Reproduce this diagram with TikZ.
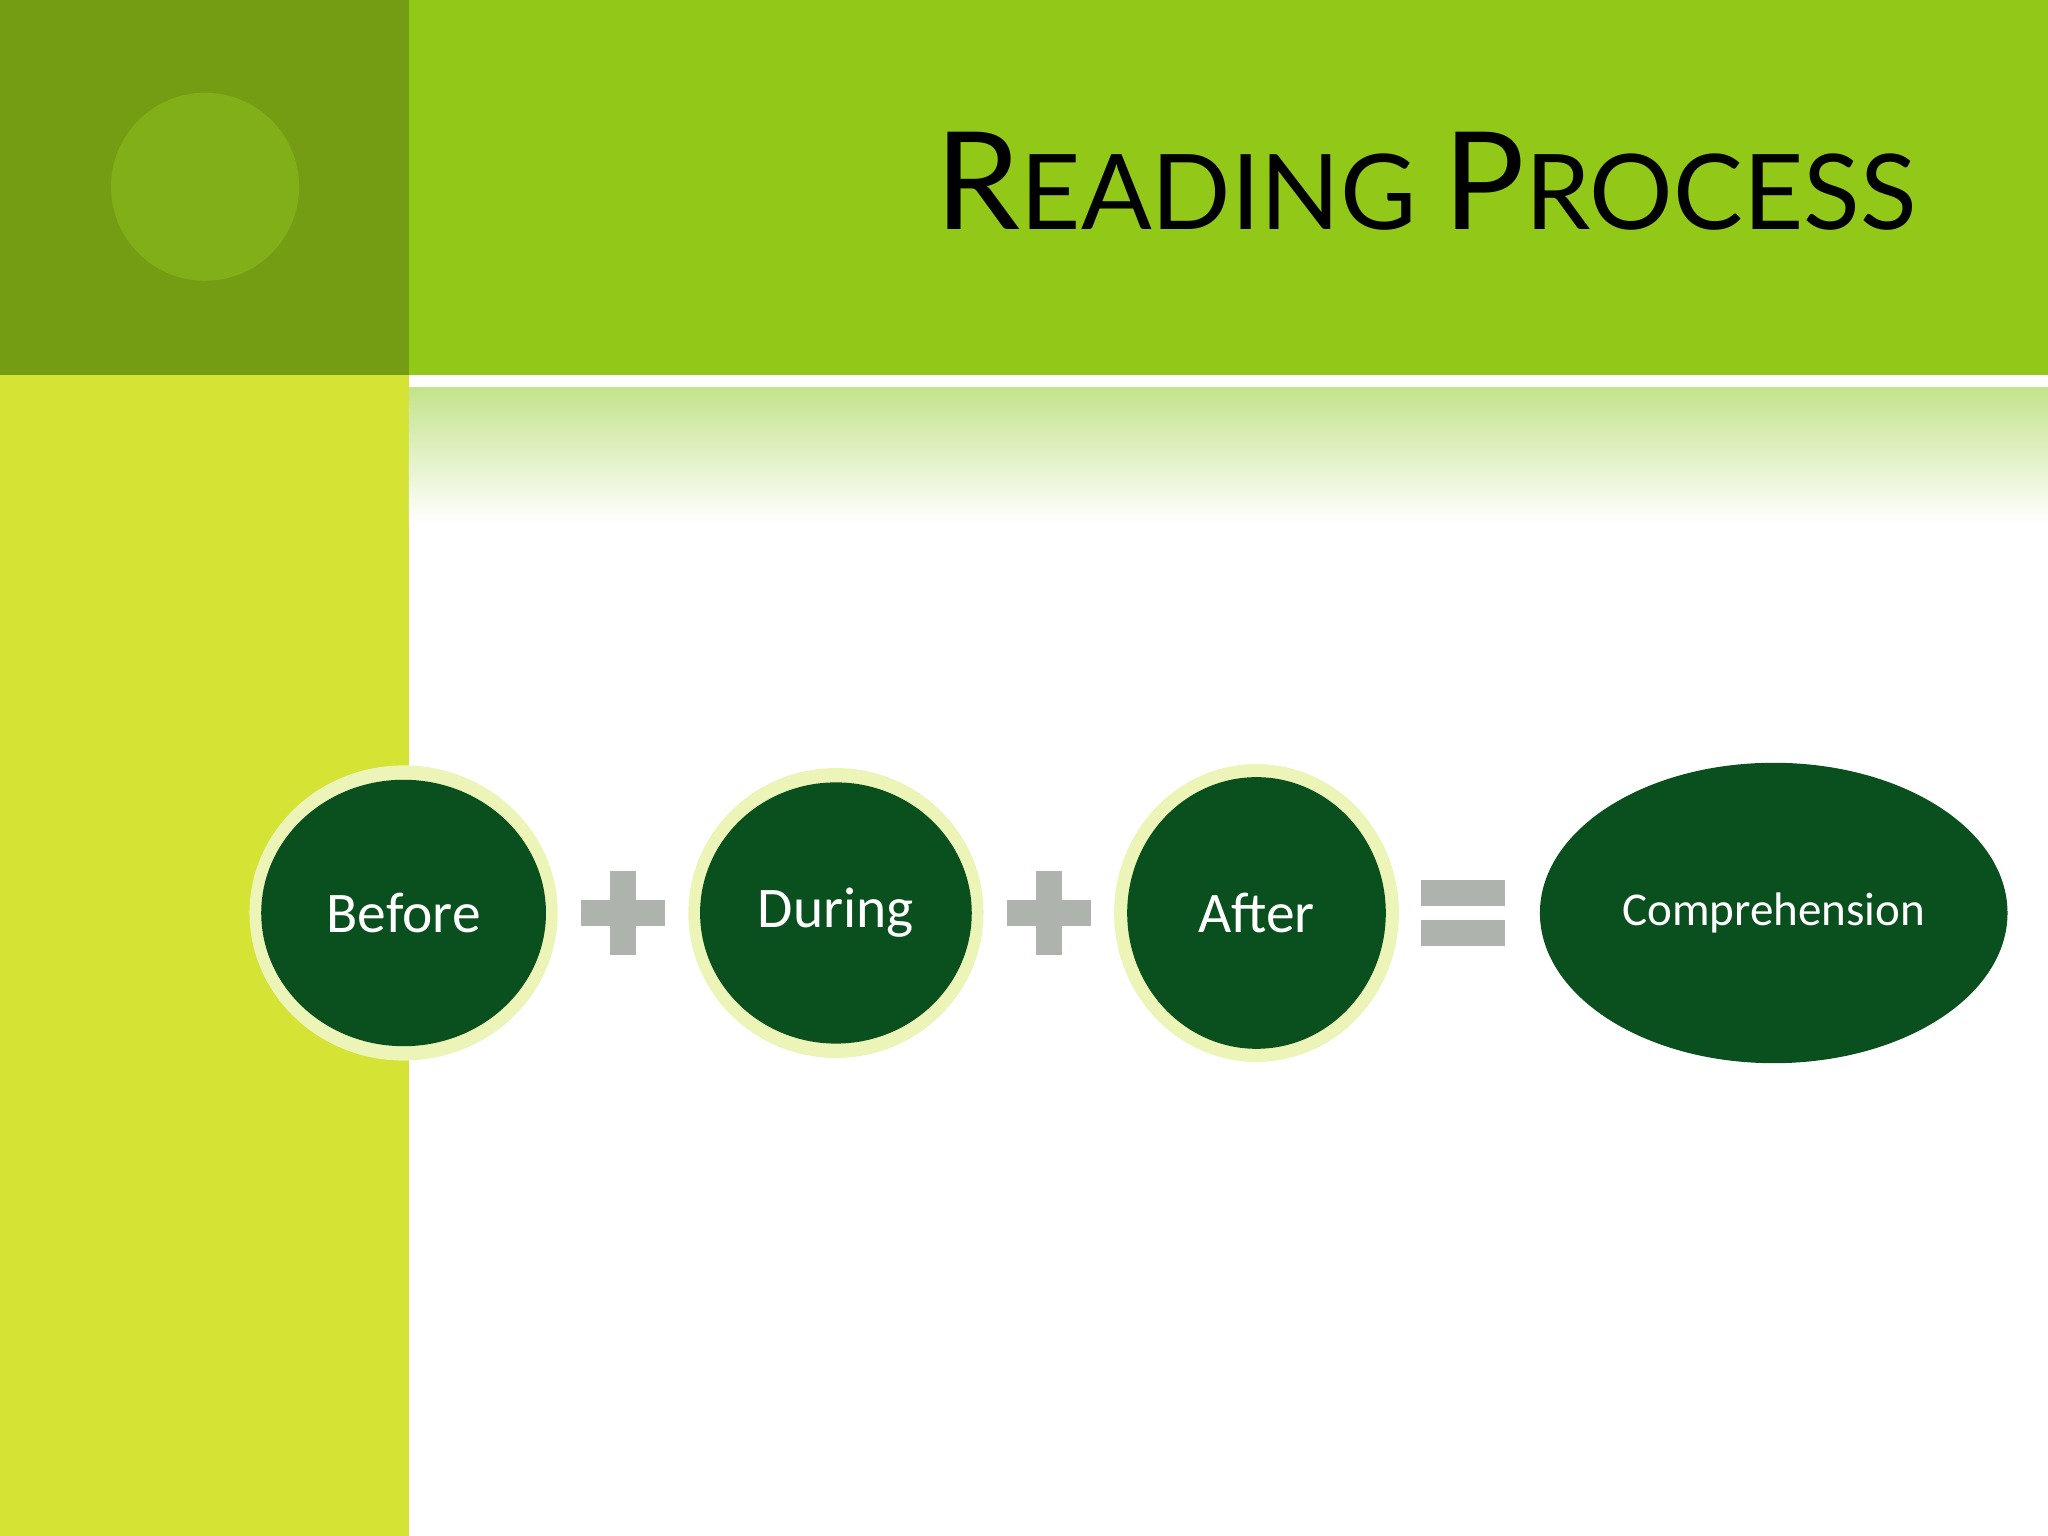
\documentclass[tikz,border=0pt]{standalone}
\usepackage{fontspec}
\setmainfont{Carlito}
\newfontfamily\titlefont{Lato}
\definecolor{darkbar}{HTML}{759D14}
\definecolor{topbar}{HTML}{92C918}
\definecolor{dot}{HTML}{80AF18}
\definecolor{sidebar}{HTML}{D4E334}
\definecolor{glow}{HTML}{C4E38C}
\definecolor{ringc}{HTML}{EDF4B8}
\definecolor{bubble}{HTML}{0A501E}
\definecolor{op}{HTML}{AFB3AE}
\tikzset{
  ring/.style={fill=ringc,draw=none},
  bub/.style={fill=bubble,draw=none},
  lbl/.style={text=white,font=\fontsize{22}{26}\selectfont},
  opbar/.style={fill=op,draw=none}
}
\begin{document}
\begin{tikzpicture}[x=0.5pt,y=-0.5pt]
\useasboundingbox (0,0) rectangle (1568,1176);
\fill[white] (0,0) rectangle (1568,1176);
\fill[darkbar] (0,0) rectangle (313,287);
\fill[topbar] (313,0) rectangle (1568,287);
\fill[dot] (157,143) circle (72);
\fill[sidebar] (0,287) rectangle (313,1176);
\shade[top color=glow,bottom color=white] (313,297) rectangle (1568,400);
\node[anchor=base,inner sep=0] (title) at (1092,176) {\titlefont\fontsize{52}{60}\selectfont R\fontsize{40}{48}\selectfont EADING\ \fontsize{52}{60}\selectfont P\fontsize{40}{48}\selectfont ROCESS};
% bubbles
\fill[ring] (309,699) ellipse (118 and 113);
\fill[bub] (309,699) ellipse (109 and 102);
\node[lbl] (before) at (309,699) {Before};
\fill[ring] (640,699) ellipse (113 and 111);
\fill[bub] (640,699) ellipse (104 and 100);
\node[lbl] (during) at (640,699) {During};
\fill[ring] (962,699) ellipse (109 and 114);
\fill[bub] (962,699) ellipse (99 and 104);
\node[lbl] (after) at (962,699) {After};
\fill[bub] (1358,699) ellipse (179 and 115);
\node[lbl,font=\fontsize{18}{22}\selectfont] (comp) at (1358,699) {Comprehension};
% operators
\foreach \cx in {477,803}{
  \fill[opbar] (\cx-32,689) rectangle (\cx+32,709);
  \fill[opbar] (\cx-10,667) rectangle (\cx+10,731);
}
\fill[opbar] (1088,674) rectangle (1152,694);
\fill[opbar] (1088,704) rectangle (1152,724);
\end{tikzpicture}
\end{document}
